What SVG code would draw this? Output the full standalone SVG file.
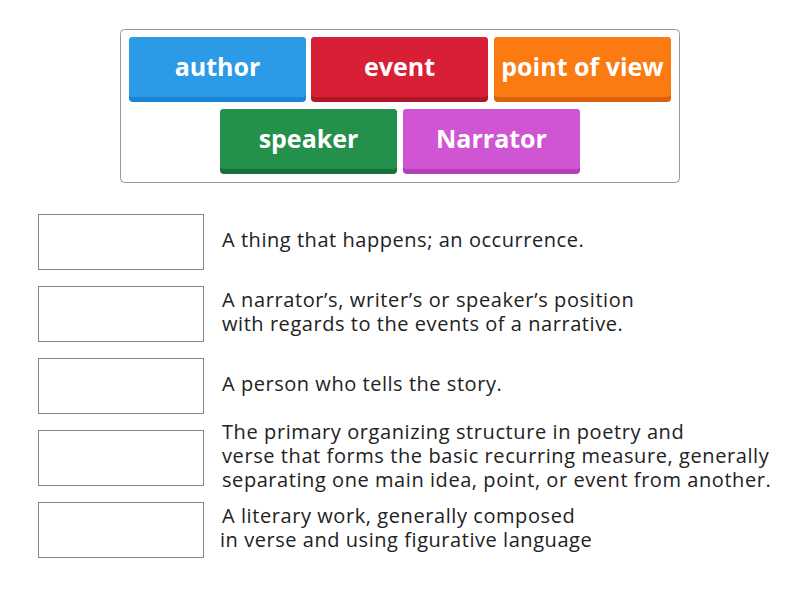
<svg xmlns="http://www.w3.org/2000/svg" width="800" height="600" viewBox="0 0 800 600">
<style>
.b{font-family:"Open Sans",sans-serif;font-weight:bold;font-size:25px;fill:#fff;text-anchor:middle}
.t{font-family:"Open Sans",sans-serif;font-size:20px;letter-spacing:0.3px;fill:#222}
.box{fill:#fff;stroke:#888;stroke-width:1}
</style>
<rect width="800" height="600" fill="#fff"/>
<rect x="120.5" y="29.5" width="559" height="153" rx="4" fill="#fff" stroke="#999"/>
<g id="author"><rect x="129" y="37" width="177" height="65" rx="4" fill="#1a85d6"/><rect x="129" y="37" width="177" height="60" rx="4" fill="#2b9be8"/><text class="b" x="217.5" y="76">author</text></g>
<g id="event"><rect x="311" y="37" width="177" height="65" rx="4" fill="#b01528"/><rect x="311" y="37" width="177" height="60" rx="4" fill="#d91f35"/><text class="b" x="399.5" y="76">event</text></g>
<g id="pov"><rect x="494" y="37" width="177" height="65" rx="4" fill="#d9620a"/><rect x="494" y="37" width="177" height="60" rx="4" fill="#fb7a12"/><text class="b" x="582.5" y="76">point of view</text></g>
<g id="speaker"><rect x="220" y="109" width="177" height="65" rx="4" fill="#17713a"/><rect x="220" y="109" width="177" height="60" rx="4" fill="#23904c"/><text class="b" x="308.5" y="148">speaker</text></g>
<g id="narrator"><rect x="403" y="109" width="177" height="65" rx="4" fill="#b440b8"/><rect x="403" y="109" width="177" height="60" rx="4" fill="#cf55d3"/><text class="b" x="491.5" y="148">Narrator</text></g>
<g id="r1"><rect class="box" x="38.5" y="214.5" width="165" height="55"/><text class="t" x="222" y="247" textLength="362">A thing that happens; an occurrence.</text></g>
<g id="r2"><rect class="box" x="38.5" y="286.5" width="165" height="55"/><text class="t" x="222" y="307" textLength="412">A narrator’s, writer’s or speaker’s position</text><text class="t" x="222" y="331" textLength="401">with regards to the events of a narrative.</text></g>
<g id="r3"><rect class="box" x="38.5" y="358.5" width="165" height="55"/><text class="t" x="222" y="391" textLength="280">A person who tells the story.</text></g>
<g id="r4"><rect class="box" x="38.5" y="430.5" width="165" height="55"/><text class="t" x="222" y="439" textLength="462">The primary organizing structure in poetry and</text><text class="t" x="222" y="463" textLength="547">verse that forms the basic recurring measure, generally</text><text class="t" x="222" y="487" textLength="549">separating one main idea, point, or event from another.</text></g>
<g id="r5"><rect class="box" x="38.5" y="502.5" width="165" height="55"/><text class="t" x="222" y="523" textLength="353">A literary work, generally composed</text><text class="t" x="220" y="547" textLength="372">in verse and using figurative language</text></g>
</svg>
